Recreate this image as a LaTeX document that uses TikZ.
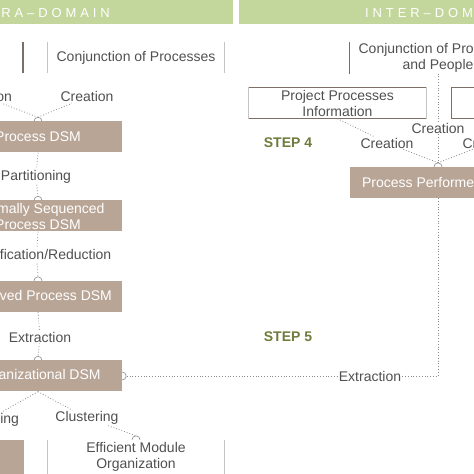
\documentclass[tikz,border=0pt]{standalone}
\usepackage{fontspec}
\setmainfont{Liberation Sans}
\usepackage{tikz}
\usetikzlibrary{positioning}
\definecolor{dsmbrown}{HTML}{B9A596}
\definecolor{darkedge}{HTML}{7D6E66}
\definecolor{lightedge}{HTML}{C4C4C4}
\definecolor{bannergreen}{HTML}{C3D69B}
\definecolor{stepgreen}{HTML}{6E7B3B}
\definecolor{txtgray}{HTML}{505050}
\definecolor{linkgray}{HTML}{8A8A8A}

\begin{document}
\begin{tikzpicture}[x=1pt,y=1pt,
  every node/.style={font=\fontsize{14}{16}\selectfont, text=txtgray, inner sep=0pt},
  dsm/.style={fill=dsmbrown, text=white, minimum width=168, minimum height=31, align=center},
  topbox/.style={minimum width=176, minimum height=31, align=center},
  lbl/.style={fill=white, inner sep=1pt},
  steplbl/.style={font=\fontsize{14}{16}\selectfont\bfseries, text=stepgreen},
  bannertext/.style={font=\fontsize{13}{15}\selectfont\addfontfeatures{LetterSpace=30}, text=white},
  link/.style={draw=linkgray, line width=0.8pt, dash pattern=on 0.8pt off 2pt},
  sock/.style={draw=linkgray, line width=0.6pt},
  lightline/.style={draw=lightedge, line width=1pt},
  darkline/.style={draw=darkedge, line width=1.2pt}]
\useasboundingbox (0,0) rectangle (474,474);
\clip (0,0) rectangle (474,474);

% domain banners
\fill[bannergreen] (-170,450) rectangle (233,490);
\fill[bannergreen] (239,450) rectangle (640,490);
\node[bannertext, anchor=east] (intra) at (110,461) {INTRA–DOMAIN};
\node[bannertext, anchor=west] (inter) at (365,461) {INTER–DOMAIN};

% conjunction boxes
\draw[darkline] (23,401) -- (23,432);
\node[topbox] (cproc) at (136,416.5) {Conjunction of Processes};
\draw[lightline] (cproc.north west) -- (cproc.south west);
\draw[lightline] (cproc.north east) -- (cproc.south east);
\node[topbox] (cpp) at (438,416) {Conjunction of Processes\\and People};
\draw[darkline] (cpp.north west) -- (cpp.south west);

% information boxes
\node[topbox, minimum width=177] (ppi) at (337.5,371) {Project Processes\\Information};
\draw[darkline] (ppi.north west) -- (ppi.north east);
\draw[darkline] (ppi.south west) -- (ppi.south east);
\draw[lightline] (ppi.north west) -- (ppi.south west);
\draw[lightline] (ppi.north east) -- (ppi.south east);
\node[topbox, minimum width=177] (pei) at (540.5,371) {};
\draw[darkline] (pei.south east) -- (pei.south west) -- (pei.north west) -- (pei.north east);

% intra-domain column
\node[dsm] (pdsm) at (38,337) {Process DSM};
\node[dsm] (osdsm) at (38,258) {Optimally Sequenced\\Process DSM};
\node[dsm] (idsm) at (38,177.5) {Improved Process DSM};
\node[dsm] (odsm) at (38,98) {Organizational DSM};
\node[dsm, minimum height=34] (lbox) at (-60,17) {};
\node[topbox, minimum height=34] (emo) at (136,17) {Efficient Module\\Organization};
\draw[lightline] (emo.north west) -- (emo.south west);
\draw[lightline] (emo.north east) -- (emo.south east);

\node[lbl] (crL) at (-14.5,377) {Creation};
\node[lbl] (crR) at (87,377) {Creation};
\node[lbl] (part) at (36,297) {Partitioning};
\node[lbl] (simp) at (36.5,218) {Simplification/Reduction};
\node[lbl] (extrL) at (40,137) {Extraction};
\node[lbl] (clL) at (-12.5,54) {Clustering};
\node[lbl] (clR) at (87,56) {Clustering};

% inter-domain column
\node[dsm, minimum width=176] (ppm) at (438,291.5) {Process Performer DSM};
\node[lbl] (crA) at (387,331) {Creation};
\node[lbl] (crM) at (438,346) {Creation};
\node[lbl] (crB) at (489,331) {Creation};
\node[lbl] (extrH) at (370,98) {Extraction};
\node[steplbl] (st4) at (288,331) {STEP 4};
\node[steplbl] (st5) at (288,137) {STEP 5};

% sockets
\foreach \b in {pdsm,osdsm,idsm,odsm,emo,ppm}{
\draw[sock] ([xshift=-4]\b.north) arc (180:0:4);
}
\draw[sock] ([yshift=4]odsm.east) arc (90:-90:4);
\coordinate (s5) at ([xshift=4]odsm.east);

% connectors
\draw[link] ([yshift=4]pdsm.north) -- (crL);
\draw[link] ([yshift=4]pdsm.north) -- (crR);
\foreach \a/\l/\b in {pdsm/part/osdsm, osdsm/simp/idsm, idsm/extrL/odsm}{
\draw[link] (\a.south) -- (\l) -- ([yshift=4]\b.north);
}
\draw[link] (odsm.south) -- (clL);
\draw[link] (odsm.south) -- (clR) -- ([yshift=4]emo.north);
\draw[link] (cpp.south) -- (crM) -- ([yshift=4]ppm.north);
\draw[link] (ppi.south) -- (crA) -- ([yshift=4]ppm.north);
\draw[link] (pei.south) -- (crB) -- ([yshift=4]ppm.north);
\draw[link] (ppm.south) |- (extrH) -- (s5);
\end{tikzpicture}
\end{document}
